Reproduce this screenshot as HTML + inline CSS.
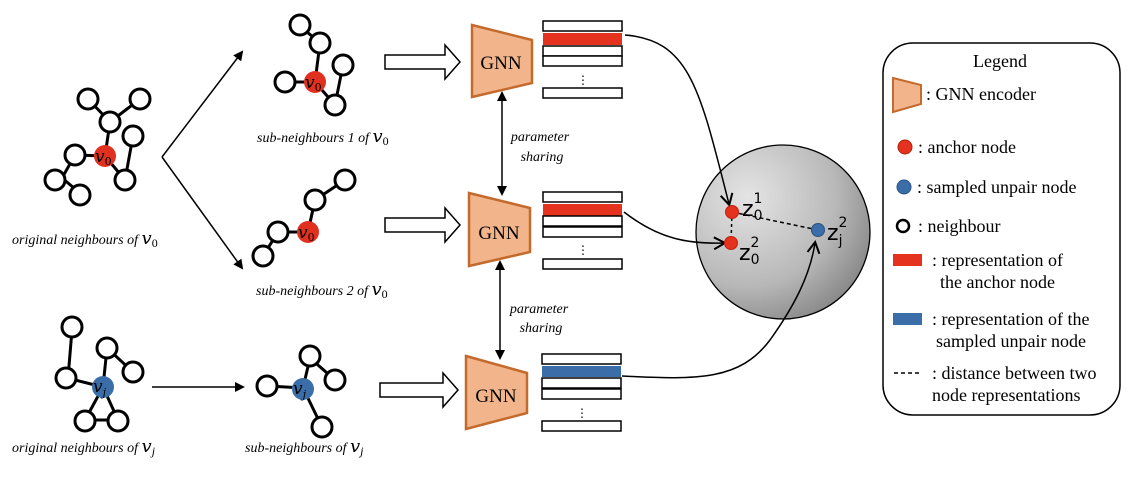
<!DOCTYPE html>
<html><head><meta charset="utf-8"><style>
html,body{margin:0;padding:0;background:#fff;}
svg{display:block;font-family:"Liberation Serif",serif;}
.n{fill:#fff;stroke:#000;stroke-width:3;}
.e{stroke:#000;stroke-width:3;}
.lb{font-style:italic;font-size:14px;}
.lg{font-size:18px;}
.bar{fill:#fff;stroke:#000;stroke-width:1.5;}
.mv{font-family:"DejaVu Serif",serif;font-style:italic;}
</style></head><body>
<svg width="1144" height="484" viewBox="0 0 1144 484" xmlns="http://www.w3.org/2000/svg">
<defs>
<marker id="ah" markerWidth="10" markerHeight="10" refX="8" refY="5" orient="auto" markerUnits="userSpaceOnUse"><path d="M0,0 L10,5 L0,10 Z" fill="#000"/></marker>
<marker id="ahs" markerWidth="10" markerHeight="10" refX="2" refY="5" orient="auto-start-reverse" markerUnits="userSpaceOnUse"><path d="M0,0 L10,5 L0,10 Z" fill="#000"/></marker>
<marker id="oh" markerWidth="14" markerHeight="14" refX="11" refY="7" orient="auto" markerUnits="userSpaceOnUse"><path d="M1,1 L12,7 L1,13" fill="none" stroke="#000" stroke-width="2"/></marker>
<radialGradient id="sg" cx="0.3" cy="0.3" r="0.85"><stop offset="0" stop-color="#e4e4e4"/><stop offset="0.6" stop-color="#b8b8b8"/><stop offset="1" stop-color="#7d7d7d"/></radialGradient>
</defs>

<!-- original neighbours v0 -->
<g>
<line class="e" x1="88" y1="99" x2="110" y2="122"/><line class="e" x1="140" y1="99" x2="110" y2="122"/>
<line class="e" x1="110" y1="122" x2="105" y2="156"/><line class="e" x1="75" y1="155" x2="105" y2="156"/>
<line class="e" x1="105" y1="156" x2="125" y2="180"/><line class="e" x1="125" y1="180" x2="133" y2="136"/>
<line class="e" x1="75" y1="155" x2="62" y2="178"/><line class="e" x1="62" y1="178" x2="80" y2="193"/>
<circle class="n" cx="88" cy="99" r="10"/><circle class="n" cx="140" cy="99" r="10"/><circle class="n" cx="110" cy="122" r="10"/>
<circle class="n" cx="133" cy="136" r="10"/><circle class="n" cx="75" cy="155" r="10"/><circle class="n" cx="125" cy="180" r="10"/>
<circle class="n" cx="55" cy="180" r="10"/><circle class="n" cx="80" cy="195" r="10"/>
<circle cx="105" cy="156" r="11" fill="#e03020"/>
<text x="95" y="162" font-size="17" class="mv">v<tspan font-size="11" dy="3" font-style="normal">0</tspan></text>
</g>
<text class="lb" x="12" y="244">original neighbours of <tspan class="mv" font-size="18">v</tspan><tspan font-size="12" font-style="normal" dy="3">0</tspan></text>

<line x1="162" y1="157" x2="242" y2="52" stroke="#000" stroke-width="1.5" marker-end="url(#ah)"/>
<line x1="162" y1="157" x2="242" y2="268" stroke="#000" stroke-width="1.5" marker-end="url(#ah)"/>

<!-- sub1 -->
<line class="e" x1="300" y1="26" x2="320" y2="43"/><line class="e" x1="320" y1="43" x2="315" y2="82"/>
<line class="e" x1="285" y1="82" x2="315" y2="82"/><line class="e" x1="315" y1="82" x2="335" y2="105"/>
<line class="e" x1="335" y1="105" x2="343" y2="65"/>
<circle class="n" cx="300" cy="25" r="10"/><circle class="n" cx="320" cy="43" r="10"/><circle class="n" cx="343" cy="65" r="10"/>
<circle class="n" cx="285" cy="82" r="10"/><circle class="n" cx="335" cy="105" r="10"/>
<circle cx="315" cy="82" r="11" fill="#e03020"/>
<text x="305" y="88" font-size="17" class="mv">v<tspan font-size="11" dy="3" font-style="normal">0</tspan></text>
<text class="lb" x="257" y="142">sub-neighbours 1 of <tspan class="mv" font-size="18">v</tspan><tspan font-size="12" font-style="normal" dy="3">0</tspan></text>

<!-- sub2 -->
<line class="e" x1="345" y1="180" x2="315" y2="200"/><line class="e" x1="315" y1="200" x2="308" y2="232"/>
<line class="e" x1="278" y1="232" x2="308" y2="232"/><line class="e" x1="278" y1="232" x2="263" y2="256"/>
<circle class="n" cx="345" cy="180" r="10"/><circle class="n" cx="315" cy="200" r="10"/><circle class="n" cx="278" cy="232" r="10"/><circle class="n" cx="263" cy="256" r="10"/>
<circle cx="308" cy="232" r="11" fill="#e03020"/>
<text x="298" y="238" font-size="17" class="mv">v<tspan font-size="11" dy="3" font-style="normal">0</tspan></text>
<text class="lb" x="256" y="295">sub-neighbours 2 of <tspan class="mv" font-size="18">v</tspan><tspan font-size="12" font-style="normal" dy="3">0</tspan></text>

<!-- original vj -->
<line class="e" x1="72" y1="330" x2="68" y2="378"/><line class="e" x1="67" y1="378" x2="103" y2="387"/>
<line class="e" x1="103" y1="387" x2="107" y2="348"/><line class="e" x1="107" y1="348" x2="133" y2="372"/>
<line class="e" x1="103" y1="387" x2="85" y2="420"/><line class="e" x1="103" y1="387" x2="118" y2="420"/>
<line class="e" x1="85" y1="420" x2="118" y2="420"/>
<circle class="n" cx="72" cy="327" r="10"/><circle class="n" cx="107" cy="348" r="10"/><circle class="n" cx="133" cy="372" r="10"/>
<circle class="n" cx="66" cy="378" r="10"/><circle class="n" cx="85" cy="421" r="10"/><circle class="n" cx="118" cy="421" r="10"/>
<circle cx="103" cy="387" r="11" fill="#3b6ea8"/>
<text x="93" y="392" font-size="17" class="mv">v<tspan font-size="11" dy="4">j</tspan></text>
<text class="lb" x="12" y="452">original neighbours of <tspan class="mv" font-size="18">v</tspan><tspan font-size="12" dy="3">j</tspan></text>
<line x1="152" y1="387" x2="243" y2="387" stroke="#000" stroke-width="1.5" marker-end="url(#ah)"/>

<!-- sub vj -->
<line class="e" x1="310" y1="358" x2="303" y2="388"/><line class="e" x1="310" y1="358" x2="335" y2="380"/>
<line class="e" x1="268" y1="386" x2="303" y2="388"/><line class="e" x1="303" y1="388" x2="322" y2="427"/>
<circle class="n" cx="310" cy="356" r="10"/><circle class="n" cx="335" cy="380" r="10"/><circle class="n" cx="267" cy="386" r="10"/><circle class="n" cx="322" cy="427" r="10"/>
<circle cx="303" cy="389" r="11" fill="#3b6ea8"/>
<text x="293" y="394" font-size="17" class="mv">v<tspan font-size="11" dy="4">j</tspan></text>
<text class="lb" x="245" y="452">sub-neighbours of <tspan class="mv" font-size="18">v</tspan><tspan font-size="12" dy="3">j</tspan></text>

<!-- hollow arrows -->
<path d="M385,55 H445 V45 L460,62 L445,79 V69 H385 Z" fill="#fff" stroke="#000" stroke-width="1.5"/>
<path d="M385,218 H445 V208 L460,225 L445,242 V232 H385 Z" fill="#fff" stroke="#000" stroke-width="1.5"/>
<path d="M380,383 H443 V373 L458,390 L443,407 V397 H380 Z" fill="#fff" stroke="#000" stroke-width="1.5"/>

<!-- GNN -->
<g fill="#f2b48b" stroke="#c46a2c" stroke-width="2.5">
<path d="M472,25 L532,40 L532,83 L472,97 Z"/>
<path d="M469,193 L530,208 L530,252 L469,266 Z"/>
<path d="M466,356 L527,373 L527,413 L466,429 Z"/>
</g>
<g font-size="19" text-anchor="middle"><text x="501" y="69">GNN</text><text x="499" y="239">GNN</text><text x="496" y="402">GNN</text></g>

<line x1="502" y1="99" x2="502" y2="194" stroke="#000" stroke-width="1.5" marker-start="url(#ahs)" marker-end="url(#ah)"/>
<line x1="500" y1="268" x2="500" y2="358" stroke="#000" stroke-width="1.5" marker-start="url(#ahs)" marker-end="url(#ah)"/>
<g class="lb" text-anchor="middle"><text x="540" y="141">parameter</text><text x="542" y="161">sharing</text>
<text x="539" y="313">parameter</text><text x="541" y="332">sharing</text></g>

<!-- bars -->
<g>
<rect class="bar" x="543" y="21" width="79" height="10"/><rect x="543" y="33" width="79" height="12" fill="#e5321e"/>
<rect class="bar" x="543" y="46" width="79" height="10"/><rect class="bar" x="543" y="56" width="79" height="10"/>
<text x="583" y="84" font-size="12" text-anchor="middle">⋮</text><rect class="bar" x="543" y="88" width="79" height="10"/>
<rect class="bar" x="543" y="192" width="79" height="10"/><rect x="543" y="204" width="79" height="12" fill="#e5321e"/>
<rect class="bar" x="543" y="216" width="79" height="10"/><rect class="bar" x="543" y="227" width="79" height="10"/>
<text x="583" y="254" font-size="12" text-anchor="middle">⋮</text><rect class="bar" x="543" y="259" width="79" height="10"/>
<rect class="bar" x="542" y="354" width="79" height="10"/><rect x="542" y="366" width="79" height="11" fill="#3b6ea8"/>
<rect class="bar" x="542" y="378" width="79" height="10"/><rect class="bar" x="542" y="389" width="79" height="10"/>
<text x="582" y="417" font-size="12" text-anchor="middle">⋮</text><rect class="bar" x="542" y="421" width="79" height="10"/>
</g>

<!-- sphere -->
<circle cx="783" cy="232" r="87" fill="url(#sg)" stroke="#000" stroke-width="1.3"/>
<path d="M625,35 C690,40 700,90 729,204" fill="none" stroke="#000" stroke-width="1.5" marker-end="url(#oh)"/>
<path d="M624,212 C660,240 690,244 724,243" fill="none" stroke="#000" stroke-width="1.5" marker-end="url(#oh)"/>
<path d="M622,376 C700,380 740,380 770,340 C795,305 810,275 815,243" fill="none" stroke="#000" stroke-width="1.5" marker-end="url(#oh)"/>
<line x1="732" y1="212" x2="818" y2="230" stroke="#000" stroke-width="1.5" stroke-dasharray="4,3"/>
<line x1="732" y1="212" x2="731" y2="243" stroke="#000" stroke-width="1.5" stroke-dasharray="3,3"/>
<circle cx="732" cy="212" r="6.5" fill="#e5321e" stroke="#c02010"/>
<circle cx="731" cy="243" r="6.5" fill="#e5321e" stroke="#c02010"/>
<circle cx="818" cy="230" r="6.5" fill="#3b6ea8" stroke="#2a5080"/>
<g font-family="'DejaVu Sans',sans-serif" font-size="22"><text x="742" y="216">z<tspan font-size="14" dy="4">0</tspan><tspan font-size="14" dx="-9" dy="-17">1</tspan></text>
<text x="739" y="260">z<tspan font-size="14" dy="4">0</tspan><tspan font-size="14" dx="-9" dy="-17">2</tspan></text>
<text x="827" y="240">z<tspan font-size="14" dy="5">j</tspan><tspan font-size="14" dx="-4" dy="-18">2</tspan></text></g>

<!-- legend -->
<rect x="883" y="43" width="237" height="372" rx="30" fill="#fff" stroke="#000" stroke-width="1.5"/>
<g class="lg">
<text x="1000" y="67" text-anchor="middle">Legend</text>
<path d="M893,78 L921,85 L921,104 L893,112 Z" fill="#f2b48b" stroke="#c46a2c" stroke-width="2"/>
<text x="926" y="100">: GNN encoder</text>
<circle cx="905" cy="147" r="7" fill="#e5321e" stroke="#b02010"/><text x="918" y="153">: anchor node</text>
<circle cx="904" cy="187" r="7" fill="#3b6ea8" stroke="#2a5080"/><text x="917" y="193">: sampled unpair node</text>
<circle cx="903" cy="226" r="6" fill="#fff" stroke="#000" stroke-width="2.5"/><text x="918" y="232">: neighbour</text>
<rect x="893" y="254" width="29" height="12" fill="#e5321e"/><text x="932" y="266">: representation of</text><text x="940" y="288">the anchor node</text>
<rect x="893" y="313" width="29" height="12" fill="#3b6ea8"/><text x="932" y="325">: representation of the</text><text x="936" y="347">sampled unpair node</text>
<line x1="894" y1="373" x2="921" y2="373" stroke="#000" stroke-width="1.5" stroke-dasharray="4,3"/>
<text x="932" y="379">: distance between two</text><text x="932" y="401">node representations</text>
</g>
</svg>
</body></html>
